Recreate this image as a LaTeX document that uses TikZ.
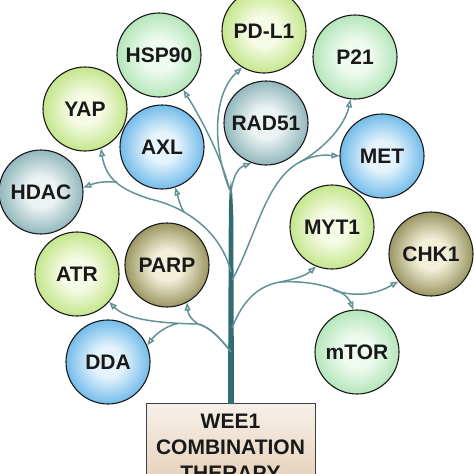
\documentclass[tikz,border=0pt]{standalone}
\usepackage{fontspec}
\setmainfont{Liberation Sans}
\usetikzlibrary{arrows.meta}
\definecolor{limeC}{RGB}{196,230,140}
\definecolor{limeI}{RGB}{246,251,230}
\definecolor{mintC}{RGB}{180,230,186}
\definecolor{mintI}{RGB}{240,251,240}
\definecolor{blueC}{RGB}{115,188,234}
\definecolor{blueI}{RGB}{228,243,252}
\definecolor{grayC}{RGB}{146,183,188}
\definecolor{grayI}{RGB}{236,243,243}
\definecolor{oliveC}{RGB}{155,150,98}
\definecolor{oliveI}{RGB}{242,240,218}
\definecolor{trunkC}{RGB}{48,108,113}
\definecolor{branchC}{RGB}{98,146,150}
\definecolor{boxT}{RGB}{247,240,233}
\definecolor{boxB}{RGB}{228,204,178}
\pgfdeclareradialshading{limeS}{\pgfpoint{0bp}{0bp}}{color(0bp)=(limeI); color(9bp)=(limeI); color(25bp)=(limeC); color(50bp)=(limeC)}
\pgfdeclareradialshading{mintS}{\pgfpoint{0bp}{0bp}}{color(0bp)=(mintI); color(9bp)=(mintI); color(25bp)=(mintC); color(50bp)=(mintC)}
\pgfdeclareradialshading{blueS}{\pgfpoint{0bp}{0bp}}{color(0bp)=(blueI); color(9bp)=(blueI); color(25bp)=(blueC); color(50bp)=(blueC)}
\pgfdeclareradialshading{grayS}{\pgfpoint{0bp}{0bp}}{color(0bp)=(grayI); color(9bp)=(grayI); color(25bp)=(grayC); color(50bp)=(grayC)}
\pgfdeclareradialshading{oliveS}{\pgfpoint{0bp}{0bp}}{color(0bp)=(oliveI); color(9bp)=(oliveI); color(25bp)=(oliveC); color(50bp)=(oliveC)}
\tikzset{
  bub/.style={circle, draw=black!90, line width=1.1pt, minimum size=84pt, inner sep=0pt,
    font=\fontsize{21}{21}\selectfont\bfseries, text=black!90},
  limeb/.style={bub, shade, shading=limeS},
  mintb/.style={bub, shade, shading=mintS},
  blueb/.style={bub, shade, shading=blueS},
  grayb/.style={bub, shade, shading=grayS},
  oliveb/.style={bub, shade, shading=oliveS},
  br/.style={draw=branchC, line width=1.5pt, -{Triangle[open,length=8pt,width=6pt]}},
  stem/.style={draw=branchC, line width=1.8pt},
  boxst/.style={draw=black!75, line width=1.2pt, top color=boxT, bottom color=boxB,
    minimum width=169pt, minimum height=90pt, anchor=north west},
  boxtxt/.style={font=\fontsize{21}{21}\selectfont\bfseries, text=black!90, inner sep=0pt}
}
\begin{document}
\begin{tikzpicture}[x=1pt,y=-1pt]
\useasboundingbox (0,0) rectangle (474,474);
\clip (0,0) rectangle (474,474);

% circles
\node[limeb]  (pdl)  at (264,31)  {PD-L1};
\node[mintb]  (hsp)  at (159,55)  {HSP90};
\node[mintb]  (p21)  at (355,57)  {P21};
\node[limeb]  (yap)  at (85,109)  {YAP};
\node[blueb]  (axl)  at (162,147) {AXL};
\node[grayb]  (rad)  at (266,123) {RAD51};
\node[blueb]  (met)  at (382,156) {MET};
\node[grayb]  (hdac) at (41,192)  {HDAC};
\node[limeb]  (myt)  at (332,227) {MYT1};
\node[oliveb] (chk)  at (431,254) {CHK1};
\node[limeb]  (atr)  at (77,274)  {ATR};
\node[oliveb] (parp) at (167,265) {PARP};
\node[blueb]  (dda)  at (108,362) {DDA};
\node[mintb]  (mtor) at (357,352) {mTOR};

% box
\node[boxst] (wee) at (146,403) {};
\node[boxtxt] (t1) at (230.5,421.5) {WEE1};
\node[boxtxt] (t2) at (230.5,447.5) {COMBINATION};
\node[boxtxt] (t3) at (230.5,473.5) {THERAPY};

% trunk
\fill[trunkC] (228,404) -- (234,404) -- (233.3,216) -- (232.3,194) -- (231,180)
  -- (229.4,194) -- (228.8,216) -- cycle;

% junction coordinates
\coordinate (tLL) at (231,352);
\coordinate (jLL) at (198,324);
\coordinate (jDDA) at (178,323.5);
\coordinate (tUL) at (231,272);
\coordinate (jUL) at (150,199);
\coordinate (jAXL) at (184,212);
\coordinate (jHD) at (117,182);
\coordinate (tRM) at (232,280);
\coordinate (jRM) at (300,162);
\coordinate (tR) at (230.5,195);
\coordinate (tTop) at (229.8,190);
\coordinate (tLR) at (232,328);
\coordinate (jLR) at (280,282);
\coordinate (jCHK) at (333,290);

% lower-left branch
\draw[stem] (tLL) .. controls (220,338) and (210,327) .. (jLL);
\draw[br] (jLL) .. controls (192,320) and (188,315) .. (parp.-62);
\draw[br] (jLL) .. controls (150,323) and (125,318) .. (atr.-41);
\draw[br] (jDDA) .. controls (165,326) and (155,335) .. (dda.23);

% upper-left branch
\draw[br] (tUL) .. controls (222,235) and (190,208) .. (jUL) .. controls (122,190) and (106,180) .. (yap.-68);
\draw[br] (jHD) .. controls (103,181) and (95,183) .. (hdac.6);
\draw[br] (jAXL) .. controls (180,206) and (179,200) .. (axl.-72);

% right-middle branch
\draw[br] (tRM) .. controls (255,240) and (265,180) .. (jRM) .. controls (315,154) and (326,155) .. (met.180);
\draw[br] (jRM) .. controls (325,148) and (345,125) .. (p21.-96);

% RAD51
\draw[br] (tR) .. controls (233,175) and (238,168) .. (rad.-110);

% top
\draw[br] (tTop) .. controls (222,160) and (205,125) .. (hsp.-55);
\draw[br] (tTop) .. controls (213,150) and (212,95) .. (pdl.-121);

% lower-right branch
\draw[br] (tLR) .. controls (243,300) and (258,286) .. (jLR) .. controls (295,279) and (305,276) .. (myt.-112);
\draw[br] (jLR) .. controls (310,280) and (345,288) .. (mtor.95);
\draw[br] (jCHK) .. controls (360,299) and (380,292) .. (chk.220);
\end{tikzpicture}
\end{document}
